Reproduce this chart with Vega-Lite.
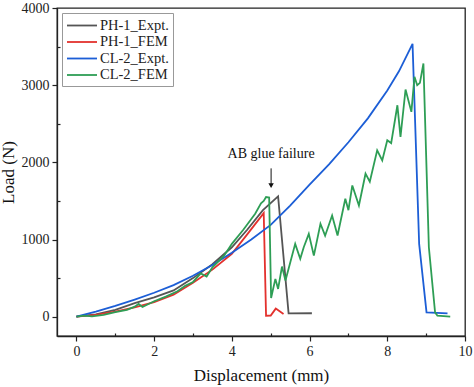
{
  "$schema": "https://vega.github.io/schema/vega-lite/v6.json",
  "width": 408,
  "height": 328,
  "autosize": {"type": "none"},
  "padding": {"left": 57, "top": 8, "right": 9, "bottom": 51},
  "background": "white",
  "config": {
    "font": "Liberation Serif",
    "view": {"stroke": "#222", "strokeWidth": 1.3},
    "axis": {"domainColor": "#222", "domainWidth": 1.3, "tickColor": "#222", "tickWidth": 1.2, "labelColor": "#222", "titleColor": "#111", "grid": false, "labelFont": "Liberation Serif", "titleFont": "Liberation Serif", "labelFontSize": 14, "titleFontSize": 17, "titleFontWeight": "normal"},
    "legend": {"labelFont": "Liberation Serif"},
    "text": {"font": "Liberation Serif"}
  },
  "datasets": {
    "curves": [
      {"s": "PH-1_Expt.", "x": 0, "y": 0},
      {"s": "PH-1_Expt.", "x": 0.5, "y": 30},
      {"s": "PH-1_Expt.", "x": 1, "y": 90},
      {"s": "PH-1_Expt.", "x": 1.5, "y": 175},
      {"s": "PH-1_Expt.", "x": 2, "y": 250},
      {"s": "PH-1_Expt.", "x": 2.5, "y": 340},
      {"s": "PH-1_Expt.", "x": 3, "y": 500},
      {"s": "PH-1_Expt.", "x": 3.5, "y": 680},
      {"s": "PH-1_Expt.", "x": 4, "y": 900},
      {"s": "PH-1_Expt.", "x": 4.4, "y": 1130},
      {"s": "PH-1_Expt.", "x": 4.8, "y": 1380},
      {"s": "PH-1_Expt.", "x": 5.19, "y": 1560},
      {"s": "PH-1_Expt.", "x": 5.46, "y": 43},
      {"s": "PH-1_Expt.", "x": 6.06, "y": 45},
      {"s": "PH-1_FEM", "x": 0, "y": 0},
      {"s": "PH-1_FEM", "x": 0.5, "y": 25},
      {"s": "PH-1_FEM", "x": 1, "y": 65},
      {"s": "PH-1_FEM", "x": 1.5, "y": 120},
      {"s": "PH-1_FEM", "x": 2, "y": 190},
      {"s": "PH-1_FEM", "x": 2.5, "y": 285},
      {"s": "PH-1_FEM", "x": 3, "y": 440},
      {"s": "PH-1_FEM", "x": 3.5, "y": 610},
      {"s": "PH-1_FEM", "x": 4, "y": 815},
      {"s": "PH-1_FEM", "x": 4.4, "y": 1070},
      {"s": "PH-1_FEM", "x": 4.82, "y": 1342},
      {"s": "PH-1_FEM", "x": 4.88, "y": 13},
      {"s": "PH-1_FEM", "x": 5.0, "y": 15},
      {"s": "PH-1_FEM", "x": 5.13, "y": 105},
      {"s": "PH-1_FEM", "x": 5.33, "y": 35},
      {"s": "CL-2_Expt.", "x": 0, "y": 0},
      {"s": "CL-2_Expt.", "x": 0.5, "y": 65},
      {"s": "CL-2_Expt.", "x": 1, "y": 140},
      {"s": "CL-2_Expt.", "x": 1.5, "y": 222},
      {"s": "CL-2_Expt.", "x": 2, "y": 310},
      {"s": "CL-2_Expt.", "x": 2.5, "y": 410},
      {"s": "CL-2_Expt.", "x": 3, "y": 530},
      {"s": "CL-2_Expt.", "x": 3.5, "y": 670},
      {"s": "CL-2_Expt.", "x": 4, "y": 830},
      {"s": "CL-2_Expt.", "x": 4.5, "y": 1000},
      {"s": "CL-2_Expt.", "x": 5, "y": 1190},
      {"s": "CL-2_Expt.", "x": 5.5, "y": 1440},
      {"s": "CL-2_Expt.", "x": 6, "y": 1710},
      {"s": "CL-2_Expt.", "x": 6.5, "y": 1975},
      {"s": "CL-2_Expt.", "x": 7, "y": 2260},
      {"s": "CL-2_Expt.", "x": 7.5, "y": 2570},
      {"s": "CL-2_Expt.", "x": 8, "y": 2930},
      {"s": "CL-2_Expt.", "x": 8.3, "y": 3180},
      {"s": "CL-2_Expt.", "x": 8.65, "y": 3535},
      {"s": "CL-2_Expt.", "x": 8.82, "y": 944},
      {"s": "CL-2_Expt.", "x": 9.01, "y": 56},
      {"s": "CL-2_Expt.", "x": 9.55, "y": 43},
      {"s": "CL-2_FEM", "x": 0, "y": 0},
      {"s": "CL-2_FEM", "x": 0.2, "y": 15},
      {"s": "CL-2_FEM", "x": 0.4, "y": 5},
      {"s": "CL-2_FEM", "x": 0.7, "y": 25},
      {"s": "CL-2_FEM", "x": 1, "y": 60},
      {"s": "CL-2_FEM", "x": 1.3, "y": 90},
      {"s": "CL-2_FEM", "x": 1.5, "y": 130},
      {"s": "CL-2_FEM", "x": 1.6, "y": 165},
      {"s": "CL-2_FEM", "x": 1.7, "y": 125},
      {"s": "CL-2_FEM", "x": 2, "y": 200},
      {"s": "CL-2_FEM", "x": 2.3, "y": 260},
      {"s": "CL-2_FEM", "x": 2.6, "y": 330},
      {"s": "CL-2_FEM", "x": 2.8, "y": 400},
      {"s": "CL-2_FEM", "x": 3, "y": 450},
      {"s": "CL-2_FEM", "x": 3.2, "y": 560},
      {"s": "CL-2_FEM", "x": 3.35, "y": 520},
      {"s": "CL-2_FEM", "x": 3.5, "y": 640},
      {"s": "CL-2_FEM", "x": 3.8, "y": 790},
      {"s": "CL-2_FEM", "x": 4, "y": 944},
      {"s": "CL-2_FEM", "x": 4.3, "y": 1130},
      {"s": "CL-2_FEM", "x": 4.6, "y": 1334},
      {"s": "CL-2_FEM", "x": 4.75, "y": 1470},
      {"s": "CL-2_FEM", "x": 4.82, "y": 1500},
      {"s": "CL-2_FEM", "x": 4.88, "y": 1550},
      {"s": "CL-2_FEM", "x": 4.96, "y": 1545},
      {"s": "CL-2_FEM", "x": 5.01, "y": 243},
      {"s": "CL-2_FEM", "x": 5.12, "y": 490},
      {"s": "CL-2_FEM", "x": 5.19, "y": 360},
      {"s": "CL-2_FEM", "x": 5.29, "y": 650},
      {"s": "CL-2_FEM", "x": 5.38, "y": 468},
      {"s": "CL-2_FEM", "x": 5.63, "y": 944},
      {"s": "CL-2_FEM", "x": 5.76, "y": 750},
      {"s": "CL-2_FEM", "x": 5.85, "y": 900},
      {"s": "CL-2_FEM", "x": 5.98, "y": 1074},
      {"s": "CL-2_FEM", "x": 6.11, "y": 792},
      {"s": "CL-2_FEM", "x": 6.28, "y": 1204},
      {"s": "CL-2_FEM", "x": 6.4, "y": 1050},
      {"s": "CL-2_FEM", "x": 6.58, "y": 1312},
      {"s": "CL-2_FEM", "x": 6.72, "y": 1052},
      {"s": "CL-2_FEM", "x": 6.92, "y": 1528},
      {"s": "CL-2_FEM", "x": 7.0, "y": 1380},
      {"s": "CL-2_FEM", "x": 7.1, "y": 1701},
      {"s": "CL-2_FEM", "x": 7.27, "y": 1441},
      {"s": "CL-2_FEM", "x": 7.44, "y": 1853},
      {"s": "CL-2_FEM", "x": 7.55, "y": 1750},
      {"s": "CL-2_FEM", "x": 7.74, "y": 2156},
      {"s": "CL-2_FEM", "x": 7.87, "y": 2026},
      {"s": "CL-2_FEM", "x": 8.0, "y": 2286},
      {"s": "CL-2_FEM", "x": 8.1, "y": 2250},
      {"s": "CL-2_FEM", "x": 8.26, "y": 2740},
      {"s": "CL-2_FEM", "x": 8.34, "y": 2329},
      {"s": "CL-2_FEM", "x": 8.47, "y": 2944},
      {"s": "CL-2_FEM", "x": 8.62, "y": 2654},
      {"s": "CL-2_FEM", "x": 8.7, "y": 3108},
      {"s": "CL-2_FEM", "x": 8.77, "y": 3000},
      {"s": "CL-2_FEM", "x": 8.84, "y": 3030},
      {"s": "CL-2_FEM", "x": 8.93, "y": 3282},
      {"s": "CL-2_FEM", "x": 9.07, "y": 900},
      {"s": "CL-2_FEM", "x": 9.23, "y": 56},
      {"s": "CL-2_FEM", "x": 9.29, "y": 13},
      {"s": "CL-2_FEM", "x": 9.62, "y": 0}
    ],
    "note": [{"x": 5.01, "y": 2104, "y1": 1922, "y2": 1700, "label": "AB glue failure"}]
  },
  "layer": [
    {
      "data": {"name": "curves"},
      "mark": {"type": "line", "strokeWidth": 1.8, "clip": true},
      "encoding": {
        "x": {"field": "x", "type": "quantitative", "title": "Displacement (mm)",
          "scale": {"domain": [-0.5, 10], "nice": false, "zero": false},
          "axis": {"values": [0,1,2,3,4,5,6,7,8,9,10], "labelFont": "Liberation Serif", "labelFontSize": 14, "labelExpr": "datum.value % 2 === 0 ? datum.label : ''", "tickSize": {"condition": {"test": "datum.value % 2 === 0", "value": 5}, "value": -3}, "labelPadding": 3, "titlePadding": 9, "labelFlush": false}},
        "y": {"field": "y", "type": "quantitative", "title": "Load (N)",
          "scale": {"domain": [-250, 4000], "nice": false, "zero": false},
          "axis": {"values": [0,500,1000,1500,2000,2500,3000,3500,4000], "format": "d", "labelFont": "Liberation Serif", "labelFontSize": 14, "labelExpr": "datum.value % 1000 === 0 ? datum.label : ''", "tickSize": {"condition": {"test": "datum.value % 1000 === 0", "value": 5}, "value": -3}, "labelPadding": 3, "titlePadding": 4}},
        "color": {"field": "s", "type": "nominal", "title": null,
          "scale": {"domain": ["PH-1_Expt.", "PH-1_FEM", "CL-2_Expt.", "CL-2_FEM"], "range": ["#555555", "#e3312d", "#1c5ed6", "#2e9e55"]},
          "legend": {"orient": "top-left", "offset": 5, "padding": 4, "strokeColor": "#999", "fillColor": "white", "symbolType": "M-1,0H3", "symbolSize": 225, "symbolStrokeWidth": 1.8, "symbolFillColor": "transparent", "labelFont": "Liberation Serif", "labelFontSize": 14.5, "labelOffset": 17, "rowPadding": 1.5, "labelColor": "#222"}},
        "order": {"field": "x", "type": "quantitative"}
      }
    },
    {
      "data": {"name": "note"},
      "mark": {"type": "text", "fontSize": 14, "font": "Liberation Serif", "color": "#111"},
      "encoding": {"x": {"field": "x", "type": "quantitative"}, "y": {"field": "y", "type": "quantitative"}, "text": {"field": "label"}}
    },
    {
      "data": {"name": "note"},
      "mark": {"type": "rule", "color": "#111", "strokeWidth": 1},
      "encoding": {"x": {"field": "x", "type": "quantitative"}, "y": {"field": "y1", "type": "quantitative"}, "y2": {"field": "y2"}}
    },
    {
      "data": {"name": "note"},
      "mark": {"type": "point", "shape": "triangle-down", "filled": true, "color": "#111", "size": 30, "opacity": 1},
      "encoding": {"x": {"field": "x", "type": "quantitative"}, "y": {"field": "y2", "type": "quantitative"}}
    }
  ]
}
